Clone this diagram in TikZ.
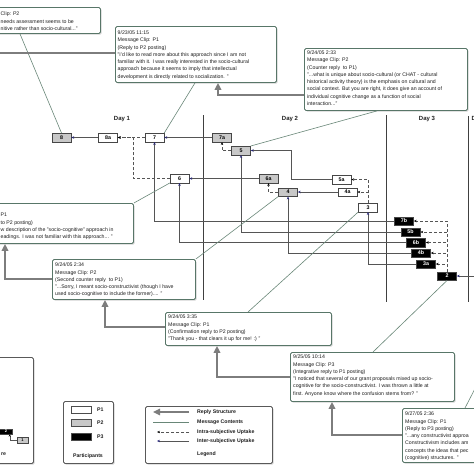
\documentclass[tikz,border=0pt]{standalone}
\usepackage{fontspec}
\setmainfont{Liberation Sans}
\usetikzlibrary{arrows.meta,shadows,calc}
\definecolor{cstroke}{RGB}{88,118,104}
\definecolor{cline}{RGB}{105,135,120}
\definecolor{rgray}{RGB}{125,125,125}
\definecolor{lgray}{RGB}{85,85,85}
\definecolor{tipblue}{RGB}{35,35,120}
\definecolor{ptwogray}{RGB}{200,200,200}
\definecolor{txt}{RGB}{30,30,30}
\begin{document}
\begin{tikzpicture}[x=1pt,y=-1pt,
 callout/.style={draw=cstroke,line width=0.9pt,fill=white,rounded corners=1.5pt,
   drop shadow={shadow xshift=1.2pt,shadow yshift=-1.2pt,opacity=0.35},inner sep=0,anchor=north west},
 legbox/.style={callout,draw=black!65},
 ctext/.style={anchor=north west,inner sep=0,align=left,font=\fontsize{5.2}{7.25}\selectfont,text=txt},
 nb/.style={draw=gray!55!black,line width=0.5pt,minimum width=19pt,minimum height=8.5pt,inner sep=0,
   font=\bfseries\fontsize{5.3}{5.3}\selectfont},
 pone/.style={nb,fill=white},
 ptwo/.style={nb,fill=ptwogray},
 pthree/.style={nb,fill=black,text=white},
 inter/.style={draw=lgray,line width=0.6pt,-{Stealth[length=3pt,width=2.4pt,color=tipblue]}},
 intra/.style={draw=lgray,line width=0.7pt,dash pattern=on 3pt off 2pt,-{Stealth[length=3pt,width=2.4pt,color=black]}},
 msg/.style={draw=cline,line width=0.6pt},
 replyline/.style={draw=rgray,line width=1.8pt},
 reply/.style={replyline,-{Triangle[length=7pt,width=6.5pt]}},
 dayline/.style={draw=black!75,line width=0.8pt},
 daylab/.style={font=\bfseries\fontsize{6}{6}\selectfont,text=txt},
 legtext/.style={anchor=west,inner sep=0,font=\bfseries\fontsize{5.2}{6}\selectfont,text=txt},
]
\fill[white] (0,0) rectangle (474,474);
\clip (0,0) rectangle (474,474);

% day separators
\coordinate (d1t) at (203,115); \coordinate (d1b) at (203,300);
\coordinate (d2t) at (386,115); \coordinate (d2b) at (386,302);
\coordinate (d3t) at (468,116); \coordinate (d3b) at (468,302);
\draw[dayline] (d1t) -- (d1b);
\draw[dayline] (d2t) -- (d2b);
\draw[dayline] (d3t) -- (d3b);
\node[daylab] (day1) at (122,119) {Day 1};
\node[daylab] (day2) at (290,119) {Day 2};
\node[daylab] (day3) at (427,119) {Day 3};
\node[daylab,anchor=west,inner sep=0] (day4) at (471.5,119) {Day 4};

% callout boxes
\node[callout,minimum width=120pt,minimum height=26pt] (bA) at (-20,7) {};
\node[callout,minimum width=161pt,minimum height=56pt] (bB) at (115,26) {};
\node[callout,minimum width=163pt,minimum height=62pt] (bC) at (304,48) {};
\node[callout,minimum width=153pt,minimum height=40pt] (bD) at (-20,203) {};
\node[callout,minimum width=143pt,minimum height=40pt] (bE) at (52,259) {};
\node[callout,minimum width=166pt,minimum height=33pt] (bF) at (165,312) {};
\node[callout,minimum width=164pt,minimum height=49pt] (bG) at (290,352) {};
\node[callout,minimum width=110pt,minimum height=54pt] (bH) at (402,408) {};

\node[ctext] (tA) at (0.5,12) {Clip: P2\\needs assessment seems to be\\nitive rather than socio-cultural..."};
\node[ctext] (tB) at (117.5,30.7) {9/23/05 11:15\\Message Clip: P1\\(Reply to P2 posting)\\"I'd like to read more about this approach since I am not\\familiar with it. I was really interested in the socio-cultural\\approach because it seems to imply that intellectual\\development is directly related to socialization. "};
\node[ctext] (tC) at (307,50.7) {9/24/05 2:33\\Message Clip: P2\\(Counter reply\ \ to P1)\\"...what is unique about socio-cultural (or CHAT - cultural\\historical activity theory) is the emphasis on cultural and\\social context. But you are right, it does give an account of\\individual cognitive change as a function of social\\interaction..."};
\node[ctext] (tD) at (0.5,213) {P1\\to P2 posting)\\w description of the "socio-cognitive" approach in\\eadings. I was not familiar with this approach... "};
\node[ctext] (tE) at (55,263) {9/24/05 2:34\\Message Clip: P2\\(Second counter reply\ \ to P1)\\"...Sorry, I meant socio-constructivist (though I have\\used socio-cognitive to include the former).... "};
\node[ctext] (tF) at (168,315) {9/24/05 3:35\\Message Clip: P1\\(Confirmation reply to P2 posting)\\"Thank you - that clears it up for me! :) "};
\node[ctext] (tG) at (293,355) {9/25/05 10:14\\Message Clip: P3\\(Integrative reply to P1 posting)\\"I noticed that several of our grant proposals mixed up socio-\\cognitive for the socio-constructivist. I was thrown a little at\\first. Anyone know where the confusion stems from? "};
\node[ctext] (tH) at (405,412) {9/27/05 2:36\\Message Clip: P1\\(Reply to P3 posting)\\"...any constructivist approa\\Constructivism includes am\\concepts the ideas that pec\\(cognitive) structures. "};

% message nodes
\node[ptwo] (n8) at (61.5,137.5) {8};
\node[pone] (n8a) at (108,137.5) {8a};
\node[pone] (n7) at (154.5,137.5) {7};
\node[ptwo] (n7a) at (222,137.5) {7a};
\node[ptwo] (n5) at (241,150.5) {5};
\node[pone] (n6) at (179.5,178.5) {6};
\node[ptwo] (n6a) at (268.5,178.5) {6a};
\node[ptwo] (n4) at (288,192) {4};
\node[pone] (n5a) at (341.5,179.5) {5a};
\node[pone] (n4a) at (347.5,192) {4a};
\node[pone] (n3) at (368,207.5) {3};
\node[pthree] (n7b) at (404,221) {7b};
\node[pthree] (n5b) at (410.5,232) {5b};
\node[pthree] (n6b) at (416,242.5) {6b};
\node[pthree] (n4b) at (421,253) {4b};
\node[pthree] (n3a) at (426,264) {3a};
\node[pthree] (n2) at (447,276) {2};

% helper coordinates
\coordinate (k5) at (291,150.5);
\coordinate (k78) at (133,137.5);
\coordinate (r2) at (480,276);
\coordinate (hout) at (481,377);
\coordinate (bleft) at (-10,53);

% inter-subjective uptake
\draw[inter] (n3a.west) -| (n3.south);
\draw[inter] (n4b.west) -| (n4.south);
\draw[inter] (n6b.west) -| (n6.south);
\draw[inter] (n5b.west) -| (n5.south);
\draw[inter] (n7b.west) -| (n7.south);
\draw[inter] (n5a.west) -| (k5) -- (n5.east);
\draw[inter] (n4a.west) -- (n4.east);
\draw[inter] (n6a.west) -- (n6.east);
\draw[inter] (n7a.west) -- (n7.east);
\draw[inter] (n8a.west) -- (n8.east);
\draw[inter] (r2) -- (n2.east);

% intra-subjective uptake
\draw[intra] (n2.north) |- (n7b.east);
\draw[intra] (n2.north) |- (n5b.east);
\draw[intra] (n2.north) |- (n6b.east);
\draw[intra] (n2.north) |- (n4b.east);
\draw[intra] (n2.north) |- (n3a.east);
\draw[intra] (n3.north) |- (n5a.east);
\draw[intra] (n3.north) |- (n4a.east);
\draw[intra] (n4.west) -| (n6a.south);
\draw[intra] (n5.west) -| (n7a.south);
\draw[intra] (n7.west) -- (n8a.east);
\draw[intra] (n6.west) -| (k78) -- (n8a.east);

% message contents
\draw[msg] ($(bA.south west)+(40,0)$) -- (n8.north);
\draw[msg] ($(bB.south west)+(80,0)$) -- (n7.north east);
\draw[msg] ($(bC.south west)+(73,0)$) -- (n5.north east);
\draw[msg] (n6.south west) -- (bD.north east);
\draw[msg] (bE.north east) -- (n4.south west);
\draw[msg] ($(bF.north west)+(83,0)$) -- (n3.south west);
\draw[msg] ($(bG.north west)+(83,0)$) -- (n2.south);
\draw[msg] ($(bH.north west)+(63,0)$) -- (hout);

% reply structure
\draw[replyline] ($(bB.north west)+(0,27)$) -- (bleft);
\draw[reply] ($(bC.north west)+(0,47)$) -| ($(bB.south west)+(103,0)$);
\draw[reply] ($(bE.north west)+(0,20)$) -| ($(bD.south west)+(25,0)$);
\draw[reply] ($(bF.north west)+(0,15)$) -| ($(bE.south west)+(53,0)$);
\draw[reply] ($(bG.north west)+(0,25)$) -| ($(bF.south west)+(52,0)$);
\draw[reply] ($(bH.north west)+(0,27)$) -| ($(bG.south west)+(42,0)$);

% legend 1 (reply structure example)
\node[legbox,minimum width=53pt,minimum height=106pt] (L1) at (-20,357) {};
\node[pthree,minimum width=13pt,minimum height=5.5pt,font=\bfseries\fontsize{4}{4}\selectfont] (lg2) at (6,431.5) {2};
\node[ptwo,minimum width=11pt,minimum height=5.5pt,font=\bfseries\fontsize{4}{4}\selectfont] (lg1) at (22.5,440) {1};
\draw[draw=lgray,line width=0.5pt,-{Stealth[length=2pt,width=2pt,color=black]}] (lg1.west) -| ($(lg2.south east)+(-3,0)$);
\node[legtext,anchor=center] (lgre) at (3.5,454) {re};

% legend 2 (participants)
\node[legbox,minimum width=50pt,minimum height=62pt] (L2) at (63,401) {};
\node[draw=black!70,fill=white,minimum width=20pt,minimum height=7pt,inner sep=0] (lp1) at (81,409.5) {};
\node[draw=black!70,fill=ptwogray,minimum width=20pt,minimum height=7pt,inner sep=0] (lp2) at (81,423) {};
\node[draw=black!70,fill=black,minimum width=20pt,minimum height=7pt,inner sep=0] (lp3) at (81,437) {};
\node[legtext] (lt1) at (97,409.5) {P1};
\node[legtext] (lt2) at (97,423) {P2};
\node[legtext] (lt3) at (97,437) {P3};
\node[legtext,anchor=center] (ltp) at (88,456) {Participants};

% legend 3 (line styles)
\node[legbox,minimum width=127pt,minimum height=57pt] (L3) at (145,406) {};
\coordinate (s1a) at (153,412); \coordinate (s1b) at (189,412);
\coordinate (s2a) at (153,422); \coordinate (s2b) at (189,422);
\coordinate (s3a) at (157,432); \coordinate (s3b) at (189,432);
\coordinate (s4a) at (157,441); \coordinate (s4b) at (189,441);
\draw[reply,line width=1.5pt] (s1b) -- (s1a);
\draw[msg] (s2a) -- (s2b);
\draw[intra] (s3b) -- (s3a);
\draw[inter] (s4b) -- (s4a);
\node[legtext] (ls1) at (197,412) {Reply Structure};
\node[legtext] (ls2) at (197,422) {Message Contents};
\node[legtext] (ls3) at (197,432) {Intra-subjective Uptake};
\node[legtext] (ls4) at (197,441) {Inter-subjective Uptake};
\node[legtext] (ls5) at (197,454) {Legend};
\end{tikzpicture}
\end{document}
